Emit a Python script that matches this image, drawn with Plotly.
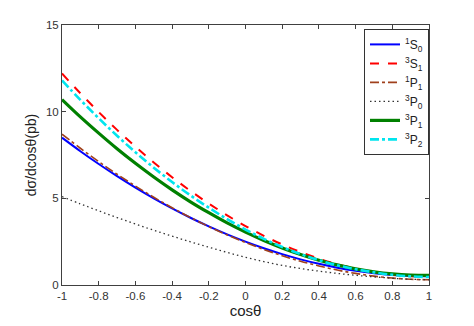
import plotly.graph_objects as go

# cos(theta) sampling points
cos_theta = [-1.0, -0.9, -0.8, -0.7, -0.6, -0.5, -0.4, -0.3, -0.2, -0.1, 0.0,
             0.1, 0.2, 0.3, 0.4, 0.5, 0.6, 0.7, 0.8, 0.9, 1.0]

# differential cross sections dσ/dcosθ in pb for each state
s0_1 = [8.5, 7.72, 6.98, 6.28, 5.62, 5.0, 4.42, 3.88, 3.38, 2.92, 2.5,
        2.12, 1.78, 1.48, 1.22, 1.0, 0.82, 0.68, 0.58, 0.52, 0.5]
s1_3 = [12.2, 11.06, 9.98, 8.95, 7.98, 7.07, 6.22, 5.43, 4.7, 4.02, 3.4,
        2.84, 2.34, 1.9, 1.52, 1.2, 0.95, 0.75, 0.6, 0.5, 0.42]
p1_1 = [8.7, 7.89, 7.12, 6.39, 5.71, 5.06, 4.46, 3.89, 3.37, 2.89, 2.45,
        2.05, 1.69, 1.37, 1.1, 0.86, 0.67, 0.51, 0.4, 0.33, 0.3]
p0_3 = [5.1, 4.68, 4.28, 3.89, 3.52, 3.16, 2.82, 2.49, 2.18, 1.88, 1.6,
        1.35, 1.13, 0.95, 0.8, 0.67, 0.56, 0.47, 0.39, 0.33, 0.3]
p1_3 = [10.7, 9.7, 8.76, 7.86, 7.02, 6.23, 5.49, 4.8, 4.17, 3.58, 3.05,
        2.57, 2.14, 1.76, 1.43, 1.16, 0.93, 0.76, 0.64, 0.57, 0.55]
p2_3 = [11.8, 10.68, 9.62, 8.61, 7.66, 6.77, 5.94, 5.17, 4.46, 3.8, 3.2,
        2.66, 2.19, 1.78, 1.43, 1.14, 0.91, 0.73, 0.59, 0.5, 0.46]

x_ticks = [-1, -0.8, -0.6, -0.4, -0.2, 0, 0.2, 0.4, 0.6, 0.8, 1]
x_tick_text = ["-1", "-0.8", "-0.6", "-0.4", "-0.2", "0", "0.2", "0.4", "0.6", "0.8", "1"]
y_ticks = [0, 5, 10, 15]

series = [
    ("<sup>1</sup>S<sub>0</sub>", s0_1, "#0000ff", "solid", 2),
    ("<sup>3</sup>S<sub>1</sub>", s1_3, "#ff0000", "dash", 2),
    ("<sup>1</sup>P<sub>1</sub>", p1_1, "#a0401c", "dashdot", 1.6),
    ("<sup>3</sup>P<sub>0</sub>", p0_3, "#333333", "1.5px,3px", 1.3),
    ("<sup>3</sup>P<sub>1</sub>", p1_3, "#008000", "solid", 3.2),
    ("<sup>3</sup>P<sub>2</sub>", p2_3, "#00e5ee", "dashdot", 2.6),
]

fig = go.Figure()
for name, vals, color, dash, width in series:
    fig.add_trace(go.Scatter(
        x=cos_theta, y=vals, name=name, mode="lines",
        line=dict(color=color, dash=dash, width=width, shape="spline"),
    ))

axis_common = dict(
    showline=True, linecolor="#404040", linewidth=1, mirror="ticks",
    ticks="inside", ticklen=4, tickcolor="#404040", showgrid=False,
    zeroline=False, tickfont=dict(family="Liberation Sans, Arial", size=11.5, color="#333333"),
)

fig.update_layout(
    width=474, height=326,
    margin=dict(l=62, r=45, t=25, b=35),
    paper_bgcolor="white", plot_bgcolor="white",
    xaxis=dict(range=[-1, 1], tickvals=x_ticks, ticktext=x_tick_text,
               title=dict(text="cosθ", standoff=2,
                          font=dict(family="Liberation Sans, Arial", size=15, color="#222222")),
               **axis_common),
    yaxis=dict(range=[0, 15], tickvals=y_ticks,
               title=dict(text="dσ/dcosθ(pb)", standoff=6,
                          font=dict(family="Liberation Sans, Arial", size=14, color="#222222")),
               **axis_common),
    legend=dict(x=1, y=0.985, xanchor="right", yanchor="top",
                bgcolor="white", bordercolor="#333333", borderwidth=1,
                font=dict(family="Liberation Sans, Arial", size=12, color="#222222"),
                itemwidth=30, tracegroupgap=0),
    showlegend=True,
)

fig.write_html("out.html")
